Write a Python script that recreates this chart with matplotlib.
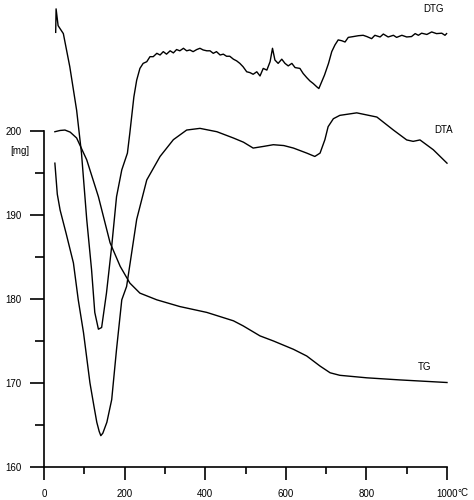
import matplotlib
matplotlib.use("Agg")
import matplotlib.pyplot as plt
from matplotlib.ticker import MultipleLocator, FixedLocator

plt.rcParams['font.family'] = ['Liberation Sans', 'DejaVu Sans']

# Temperature axis ticks
x_ticks = [0, 200, 400, 600, 800, 1000]
x_ticklabels = ["0", "200", "400", "600", "800", "1000"]
y_ticks = [160, 170, 180, 190, 200]

# TG (mass, mg)
tg_t = [27, 40, 52, 65, 81, 106, 135, 164, 189, 213, 238, 280, 337, 404, 470, 494,
        536, 569, 619, 652, 685, 710, 734, 801, 883, 1000]
tg_m = [199.95, 200.1, 200.15, 199.9, 199.2, 196.6, 192.2, 186.7, 183.9, 181.9, 180.7,
        179.9, 179.1, 178.4, 177.4, 176.8, 175.6, 175.0, 174.0, 173.2, 172.0, 171.2,
        170.9, 170.6, 170.35, 170.04]

# DTA (arbitrary units, drawn on the mg scale)
dta_t = [27, 33, 40, 55, 73, 85, 98, 114, 124, 131, 137, 141, 146, 156, 168, 180, 193,
         205, 230, 255, 288, 321, 354, 387, 429, 470, 495, 519, 545, 569, 595, 619, 652,
         672, 685, 697, 705, 718, 734, 776, 826, 867, 900, 916, 933, 966, 1000]
dta_v = [196.2, 192.5, 190.6, 187.8, 184.3, 179.9, 176.0, 170.0, 167.2, 165.3, 164.2,
         163.7, 164.0, 165.3, 168.0, 174.0, 179.9, 181.5, 189.5, 194.2, 197.0, 199.0,
         200.15, 200.35, 199.95, 199.2, 198.7, 198.0, 198.2, 198.4, 198.3, 198.0, 197.4,
         197.0, 197.4, 199.0, 200.55, 201.5, 201.9, 202.2, 201.7, 200.15, 198.97, 198.8,
         198.97, 197.8, 196.2]

# DTG (arbitrary units, drawn on the mg scale)
dtg_t = [29, 30, 35, 48, 64, 81, 93, 106, 118, 126, 135, 143, 155, 168, 180, 193, 207,
         213, 223, 230, 238, 246, 255, 263, 271, 280, 288, 296, 304, 313, 321, 329, 337,
         346, 354, 362, 370, 379, 387, 395, 404, 412, 420, 428, 437, 445, 453, 461, 470,
         478, 486, 494, 503, 511, 519, 528, 536, 544, 553, 561, 567, 573, 581, 590, 598,
         606, 615, 623, 635, 643, 652, 660, 668, 677, 682, 689, 696, 706, 714, 722, 730,
         739, 747, 755, 768, 780, 792, 801, 813, 821, 834, 842, 854, 867, 875, 888, 900,
         912, 921, 929, 937, 950, 962, 974, 987, 995, 999]
dtg_v = [211.8, 214.6, 212.6, 211.65, 207.7, 202.5, 197.4, 189.5, 183.5, 178.4, 176.4,
         176.6, 180.7, 186.3, 192.2, 195.4, 197.4, 199.8, 204.1, 206.1, 207.5, 208.1,
         208.3, 208.9, 208.9, 209.3, 209.1, 209.5, 209.2, 209.6, 209.35, 209.75, 209.6,
         209.9, 209.6, 209.7, 209.5, 209.75, 209.9, 209.7, 209.6, 209.6, 209.3, 209.5,
         209.1, 209.2, 208.95, 208.95, 208.6, 208.4, 208.1, 207.7, 207.1, 207.0, 206.8,
         207.1, 206.6, 207.5, 207.3, 208.3, 209.9, 208.5, 208.1, 208.6, 208.1, 207.8,
         208.1, 207.6, 207.5, 206.9, 206.4, 206.0, 205.7, 205.3, 205.1, 205.9, 206.7,
         208.1, 209.5, 210.3, 210.9, 210.8, 210.65, 211.2, 211.3, 211.4, 211.45, 211.3,
         211.05, 211.45, 211.25, 211.6, 211.25, 211.45, 211.2, 211.45, 211.25, 211.3,
         211.65, 211.45, 211.7, 211.55, 211.85, 211.65, 211.7, 211.45, 211.65]

fig = plt.figure(figsize=(4.74, 5.0), dpi=100)
ax = fig.add_axes([44 / 474, 33.3 / 500, 403 / 474, 335.4 / 500])
ax.set_xlim(0, 1000)
ax.set_ylim(160, 200)

lw = 1.0
ax.plot(tg_t, tg_m, color='black', lw=lw, clip_on=False)
ax.plot(dta_t, dta_v, color='black', lw=lw, clip_on=False)
ax.plot(dtg_t, dtg_v, color='black', lw=lw, clip_on=False)

for s in ['top', 'right']:
    ax.spines[s].set_visible(False)
for s in ['left', 'bottom']:
    ax.spines[s].set_linewidth(1.2)

ax.xaxis.set_major_locator(FixedLocator(x_ticks))
ax.set_xticklabels(x_ticklabels)
ax.xaxis.set_minor_locator(MultipleLocator(100))
ax.yaxis.set_major_locator(FixedLocator(y_ticks))
ax.yaxis.set_minor_locator(MultipleLocator(5))

ax.tick_params(axis='x', which='major', direction='out', length=9.5, width=1.2,
               labelsize=7, pad=6.5)
ax.tick_params(axis='x', which='minor', direction='out', length=5, width=1.2)
ax.tick_params(axis='y', which='major', direction='out', length=10, width=1.2,
               labelsize=7, pad=6)
ax.tick_params(axis='y', which='minor', direction='out', length=6.5, width=1.2)

ax.annotate("°C", xy=(1000, 0), xycoords=('data', 'axes fraction'),
            xytext=(7.6, -19.0), textcoords='offset points',
            ha='left', va='center', fontsize=7)

fig.text(20 / 474, 1 - 151 / 500, "[mg]", ha='center', va='center', fontsize=7)
fig.text(433 / 474, 1 - 9.5 / 500, "DTG", ha='center', va='center', fontsize=7)
fig.text(443.5 / 474, 1 - 130 / 500, "DTA", ha='center', va='center', fontsize=7)
fig.text(425 / 474, 1 - 367 / 500, "TG", ha='center', va='center', fontsize=7)

fig.savefig("out.png", dpi=100)
